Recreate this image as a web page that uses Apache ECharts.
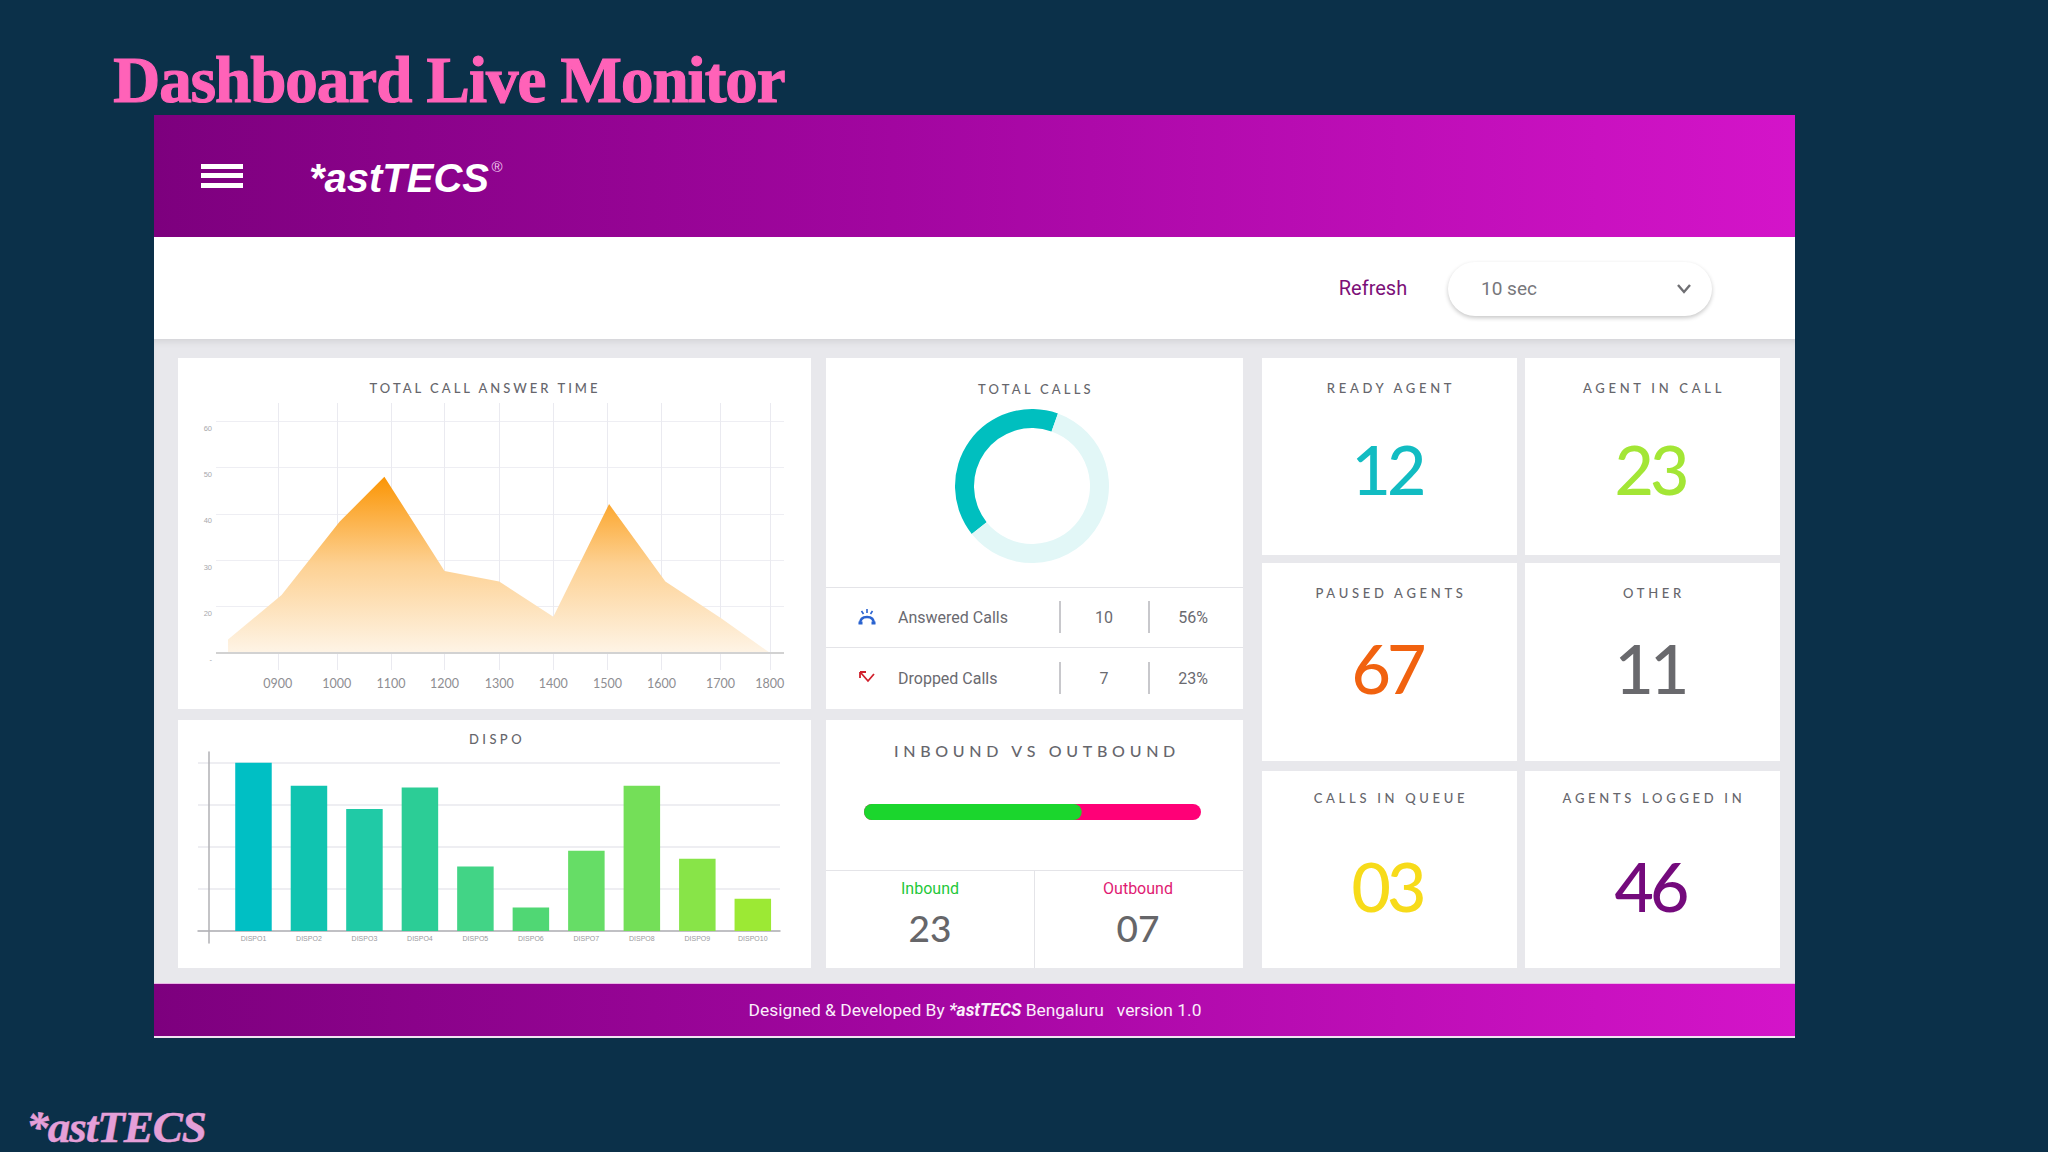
<!DOCTYPE html>
<html>
<head>
<meta charset="utf-8">
<title>Dashboard Live Monitor</title>
<script src="https://cdn.jsdelivr.net/npm/echarts@6/dist/echarts.min.js"></script>
<style>
html,body{margin:0;padding:0;width:2048px;height:1152px;overflow:hidden;background:#0b3049;font-family:Lato,sans-serif;}
#page{position:relative;width:2048px;height:1152px;overflow:hidden;}
.box{position:absolute;}
.card{position:absolute;background:#fff;}
.t{position:absolute;white-space:nowrap;transform:translate(-50%,-50%);line-height:1;}
.ct{font:500 13px Lato,sans-serif;letter-spacing:3.7px;color:#66666c;}
.row{font:400 16px Roboto,sans-serif;color:#6a6a70;}
.grad{background:linear-gradient(90deg,#7d007e 0%,#a206a0 45%,#d414c9 100%);}
</style>
</head>
<body>
<div id="page"></div>
<script>
// chart values
var answerHours = [8.09,9.07,10.13,10.95,12.05,13.05,14.04,15.06,16.09,17.11,17.98];
var answerTimes = [12.9,22.5,38.3,48,27.7,25.4,17.8,42.1,25.4,17.5,10.2];
var hourTicks = [9,10.08,11.07,12.05,13.05,14.04,15.03,16.02,17.1,18];
var hourLabels = ['0900','1000','1100','1200','1300','1400','1500','1600','1700','1800'];
var answerTicks = [10,20,30,40,50,60];
var answerTickLabels = ['-','20','30','40','50','60'];

var dispoNames = ['DISPO1','DISPO2','DISPO3','DISPO4','DISPO5','DISPO6','DISPO7','DISPO8','DISPO9','DISPO10'];
var dispoValues = [100,86.3,72.5,85.3,38.4,14,47.7,86.3,43,19.2];
var dispoTicks = [0,25,50,75,100];
var dispoColors = ['#00bfc4','#10c4b0','#20caa6','#2ccd96','#42d486','#50d774','#66dd66','#74df58','#88e448','#9ce934'];

var donutValues = [7,10];
var callRows = [['Answered Calls','10','56%'],['Dropped Calls','7','23%']];

var inboundShare = 64.6;
var outboundShare = 35.4;
var boundLabels = ['Inbound','Outbound'];
var boundValues = ['23','07'];

var statNames = ['READY AGENT','AGENT IN CALL','PAUSED AGENTS','OTHER','CALLS IN QUEUE','AGENTS LOGGED IN'];
var statValues = ['12','23','67','11','03','46'];
var statColors = ['#12bcc2','#a3e635','#f1620f','#69696d','#f7db1a','#740a7c'];

var page = document.getElementById('page');

function addBox(cls,x,y,w,h,css){
	var d = document.createElement('div');
	d.className = cls;
	d.style.cssText = 'left:'+x+'px;top:'+y+'px;width:'+w+'px;height:'+h+'px;'+(css||'');
	page.appendChild(d);
	return d;
}
function addText(txt,x,y,cls,css){
	var d = document.createElement('div');
	d.className = 't '+(cls||'');
	d.style.cssText = 'left:'+x+'px;top:'+y+'px;'+(css||'');
	d.innerHTML = txt;
	page.appendChild(d);
	return d;
}

// page frame
addText('Dashboard Live Monitor',449,80,'',"font:bold 65px 'Liberation Serif',serif;color:#ff62b8;letter-spacing:-1px;-webkit-text-stroke:1.2px #ff62b8;");
addBox('box grad',154,115,1641,122);
addBox('box',154,237,1641,103,'background:#fff;');
addBox('box',154,339,1641,645,'background:#e8e8ec;box-shadow:inset 0 6px 6px -3px #d4d4d8;');
addBox('box grad',154,983,1641,53,'border-top:1px solid #e9b6e6;box-sizing:border-box;');
addBox('box',154,1036,1641,2,'background:#f1e3f1;');

// header
addBox('box',201,164,42,5,'background:#fff;');
addBox('box',201,173,42,5,'background:#fff;');
addBox('box',201,183,42,5,'background:#fff;');
addText('*astTECS',399,178,'',"font:italic bold 40px 'Liberation Sans',sans-serif;color:#fff;");
addText('®',497,166,'',"font:15px 'Liberation Sans',sans-serif;color:#f0c8ee;");

// refresh bar
addText('Refresh',1373,288,'','font:400 20px Roboto,sans-serif;color:#7c0f78;');
addBox('box',1448,262,264,54,'background:#fff;border-radius:27px;box-shadow:0 2px 4px rgba(0,0,0,.22);');
addText('10 sec',1509,288,'','font:400 19px Roboto,sans-serif;color:#77777b;');
addBox('box',1676,283,0,0).innerHTML = '<svg width="16" height="12" style="display:block"><polyline points="2,2 8,9 14,2" fill="none" stroke="#6f6f73" stroke-width="2.4"/></svg>';

// cards
addBox('card',178,358,633,351);
addBox('card',178,720,633,248);
addBox('card',826,358,417,351);
addBox('card',826,720,417,248);

addText('TOTAL CALL ANSWER TIME',485,388,'ct','letter-spacing:3px;');
addText('DISPO',497,739,'ct','letter-spacing:3.4px;');
addText('TOTAL CALLS',1036,389,'ct','letter-spacing:3.2px;');
addText('INBOUND VS OUTBOUND',1037,750,'ct','font-size:16px;letter-spacing:4.7px;');

// call rows under the donut
addBox('box',826,587,417,1,'background:#e4e4e8;');
addBox('box',826,647,417,1,'background:#e4e4e8;');
for(var i=0;i<callRows.length;i++){
	var rowY = 617+i*61;
	addText(callRows[i][0],898,rowY,'row','transform:translate(0,-50%);');
	addBox('box',1059,rowY-16,2,32,'background:#c8c8cc;');
	addBox('box',1148,rowY-16,2,32,'background:#c8c8cc;');
	addText(callRows[i][1],1104,rowY,'row');
	addText(callRows[i][2],1193,rowY,'row');
}
addBox('box',857,607,20,20).innerHTML = '<svg width="20" height="20" style="display:block"><path d="M3 17 Q3 10 10 10 Q17 10 17 17" fill="none" stroke="#2a63d0" stroke-width="2.4"/><path d="M1.5 16h4M14.5 16h4" stroke="#2a63d0" stroke-width="3.2"/><path d="M10 2v4M4.5 4l2 3M15.5 4l-2 3" stroke="#2a63d0" stroke-width="1.6"/></svg>';
addBox('box',859,670,16,14).innerHTML = '<svg width="16" height="14" style="display:block"><path d="M1 2v6M1 2h6M2 3l7 8 6-7" fill="none" stroke="#d0202c" stroke-width="1.8"/></svg>';

// inbound / outbound
addBox('box',826,870,417,1,'background:#e4e4e8;');
addBox('box',1034,870,1,98,'background:#e4e4e8;');
addText(boundLabels[0],930,888,'','font:400 16px Roboto,sans-serif;color:#1fc83a;');
addText(boundLabels[1],1138,888,'','font:400 16px Roboto,sans-serif;color:#df1a72;');
addText(boundValues[0],930,927,'','font:500 37px Lato,sans-serif;color:#666669;');
addText(boundValues[1],1138,927,'','font:500 37px Lato,sans-serif;color:#666669;');

// stat tiles
var colX = [1262,1525];
var rowTop = [358,563,771];
var rowH = [197,198,197];
var titleY = [388,593,798];
var numberY = [468,667,885];
for(var s=0;s<statNames.length;s++){
	var c = s%2, r = Math.floor(s/2);
	addBox('card',colX[c],rowTop[r],255,rowH[r]);
	addText(statNames[s],colX[c]+129,titleY[r],'ct');
	addText(statValues[s],colX[c]+125,numberY[r],'','font:500 68px Lato,sans-serif;letter-spacing:-4px;color:'+statColors[s]+';');
}

// footer, corner logo
addText('Designed &amp; Developed By <b><i>*astTECS</i></b> Bengaluru &nbsp; version 1.0',975,1010,'','font:400 17.4px Roboto,sans-serif;color:#fbeefb;');
addText('*astTECS',116,1127,'',"font:italic bold 45px 'Liberation Serif',serif;line-height:.8;color:#e59fd8;letter-spacing:-1px;-webkit-text-stroke:.5px #e59fd8;");

// area chart
var answerChart = echarts.init(addBox('box',178,358,633,351),null,{renderer:'svg'});
answerChart.setOption({
	animation:false,
	grid:{left:38,width:568,top:45,height:267},
	xAxis:{
		type:'value',min:7.87,max:18.26,
		axisLine:{show:false},axisTick:{show:false,customValues:hourTicks},
		splitLine:{show:true,lineStyle:{color:'#eaeaf0',width:1}},
		axisLabel:{customValues:hourTicks,margin:7,fontSize:12.5,color:'#8e8e92',fontFamily:'Lato',
			formatter:function(v){return hourLabels[hourTicks.indexOf(v)];}}
	},
	yAxis:{
		type:'value',min:6.33,max:63.9,
		axisLine:{show:false},axisTick:{show:false,customValues:answerTicks},
		splitLine:{show:true,lineStyle:{color:'#eeeef3',width:1}},
		axisLabel:{customValues:answerTicks,margin:4,fontSize:7.5,color:'#a8a8ac',verticalAlign:'top',lineHeight:14,
			formatter:function(v){return answerTickLabels[answerTicks.indexOf(v)];}}
	},
	series:[{
		type:'line',showSymbol:false,silent:true,
		data:answerHours.map(function(h,i){return [h,answerTimes[i]];}),
		lineStyle:{width:0},
		areaStyle:{origin:10,opacity:1,color:new echarts.graphic.LinearGradient(0,0,0,1,[
			{offset:0,color:'#fb9504'},{offset:0.5,color:'#fdd193'},{offset:1,color:'#fef4e6'}])},
		markLine:{silent:true,symbol:'none',label:{show:false},lineStyle:{color:'#d2d2d2',width:2,type:'solid'},data:[{yAxis:10}]}
	}]
});

// dispo bars
var dispoChart = echarts.init(addBox('box',178,720,633,248),null,{renderer:'svg'});
dispoChart.setOption({
	animation:false,
	grid:{left:20,width:582,top:32,height:191},
	xAxis:{
		type:'value',min:0,max:10.49,
		axisLine:{lineStyle:{color:'#b0b0b4',width:1.5}},axisTick:{show:false,customValues:[1,2,3,4,5,6,7,8,9,10]},
		splitLine:{show:false},
		axisLabel:{customValues:[1,2,3,4,5,6,7,8,9,10],margin:-8,fontSize:7,color:'#9a9a9e',
			formatter:function(v){return dispoNames[v-1];}}
	},
	yAxis:{
		type:'value',min:-7.1,max:106.4,offset:-11,
		axisLine:{show:true,onZero:false,lineStyle:{color:'#b0b0b4',width:1.5}},
		axisTick:{show:false,customValues:dispoTicks},axisLabel:{show:false},
		splitLine:{show:true,lineStyle:{color:'#eeeef2',width:2}}
	},
	series:[{
		type:'bar',barWidth:36.5,silent:true,
		data:dispoValues.map(function(v,i){return [i+1,v];}),
		itemStyle:{color:function(p){return dispoColors[p.dataIndex];}}
	}]
});

// donut
var donutChart = echarts.init(addBox('box',826,358,417,229),null,{renderer:'svg'});
donutChart.setOption({
	animation:false,
	series:[{
		type:'pie',center:[206,128],radius:[58,77],startAngle:70.3,clockwise:false,silent:true,
		label:{show:false},labelLine:{show:false},
		data:[{value:donutValues[0],itemStyle:{color:'#00bfbf'}},{value:donutValues[1],itemStyle:{color:'#e2f7f7'}}]
	}]
});

// inbound vs outbound bar
var boundChart = echarts.init(addBox('box',826,720,417,150),null,{renderer:'svg'});
boundChart.setOption({
	animation:false,
	grid:{left:38,width:337,top:84,height:16},
	xAxis:{type:'value',min:0,max:100,show:false},
	yAxis:{type:'category',data:['share'],show:false},
	series:[
		{type:'bar',barWidth:16,silent:true,data:[inboundShare+outboundShare],itemStyle:{color:'#ff0077',borderRadius:8}},
		{type:'bar',barWidth:16,barGap:'-100%',silent:true,data:[inboundShare],itemStyle:{color:'#1bd62d',borderRadius:8}}
	]
});
</script>
</body>
</html>
